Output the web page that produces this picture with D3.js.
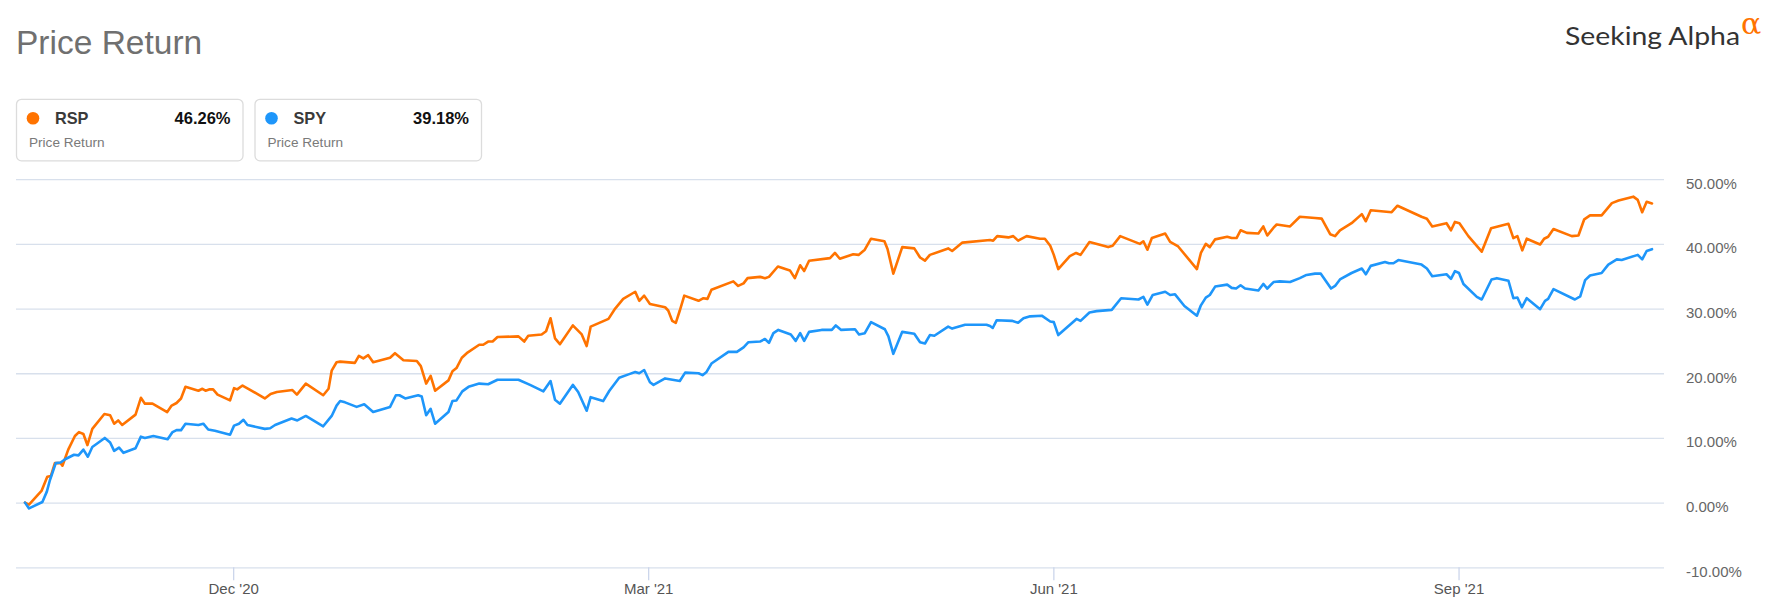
<!DOCTYPE html>
<html>
<head>
<meta charset="utf-8">
<script src="https://cdn.jsdelivr.net/npm/d3@7/dist/d3.min.js"></script>
<style>
  html, body { margin: 0; padding: 0; background: #ffffff; }
  svg { display: block; font-family: "Liberation Sans", Arial, sans-serif; }
</style>
</head>
<body>
<svg id="chart" width="1789" height="608"></svg>
<script>
// ---- data (x = days since start of the 1-year window, y = price return %) ----
const rspDays = [0.0,0.9,3.7,5.0,5.8,6.7,8.0,8.4,9.7,11.2,12.1,13.1,14.0,15.1,17.8,19.1,20.0,20.9,21.8,24.8,26.0,26.9,28.6,31.9,32.9,34.0,35.0,36.0,38.9,39.8,40.5,41.3,42.2,43.2,46.0,46.9,47.6,48.8,50.1,53.8,55.1,56.5,60.0,61.0,63.0,66.9,68.1,68.8,69.9,70.7,74.0,74.9,75.9,77.0,78.1,81.9,83.0,84.9,87.9,88.8,90.0,91.0,92.0,95.0,95.9,96.8,98.0,99.1,101.9,102.8,103.9,104.9,106.0,110.7,112.0,112.9,115.9,116.9,117.9,118.9,120.0,122.9,124.9,126.0,126.9,130.9,132.4,134.2,136.9,137.8,138.9,140.2,143.6,144.3,145.2,146.0,146.9,147.9,151.1,152.2,153.1,154.0,158.9,160.0,161.2,162.1,164.9,166.0,166.9,168.9,171.6,172.7,173.9,174.8,175.9,180.6,181.7,182.8,185.8,187.0,188.4,189.8,192.8,193.5,194.8,196.8,199.5,200.8,201.9,203.0,207.1,208.0,210.3,216.5,217.2,218.1,220.6,221.7,222.8,224.7,227.7,228.8,230.0,230.8,231.8,234.4,235.8,236.8,238.8,243.0,244.0,245.7,250.1,250.9,251.8,252.8,255.8,256.9,258.7,262.9,263.8,264.9,265.8,267.0,269.7,270.7,271.8,272.7,274.1,276.7,277.8,278.7,280.1,280.8,283.8,286.0,289.4,290.9,292.8,293.9,295.0,297.6,299.9,300.8,301.9,306.6,307.9,313.3,314.5,315.7,318.9,319.9,320.8,321.8,323.8,326.8,328.9,332.8,333.9,334.8,335.9,336.9,339.9,340.8,341.7,342.9,347.0,348.5,349.8,351.1,353.7,356.0,357.5,360.8,361.8,362.8,363.8,365.0];
const rspValues = [0,-0.3,1.8,4.0,4.1,6.1,6.1,5.7,8.2,10.3,10.9,10.6,8.9,11.4,13.7,13.5,12.2,12.7,12.0,13.6,16.2,15.3,15.3,14.0,15.0,15.4,16.1,17.9,17.3,17.6,17.3,17.5,17.5,16.7,15.8,17.7,17.5,18.1,17.6,16.1,16.8,17.1,17.4,16.7,18.4,16.6,17.6,20.4,21.7,21.8,21.6,22.7,22.3,22.8,21.7,22.4,23.1,22.0,21.9,21.1,18.4,19.6,17.3,18.9,20.3,20.8,22.4,23.1,24.4,24.4,24.9,24.9,25.6,25.7,24.9,25.8,26.0,26.5,28.5,25.4,24.5,27.4,26.0,24.2,27.2,28.4,30.0,31.5,32.6,31.2,32.0,30.7,30.2,29.7,28.1,27.8,29.7,32.0,31.2,31.6,31.5,32.9,34.2,33.5,33.9,34.7,34.9,34.7,34.9,36.5,35.9,34.7,36.7,35.8,37.4,37.8,38.6,37.7,38.4,38.3,39.1,40.8,40.4,39.2,35.4,39.5,39.3,37.9,37.4,38.3,39.3,38.9,40.2,40.6,40.5,41.2,41.0,41.2,40.5,41.2,40.8,40.8,39.7,38.3,36.1,38.1,38.6,38.3,40.3,39.5,39.7,41.2,40.0,40.4,39.1,40.9,41.6,40.3,39.6,36.1,38.6,40.0,39.5,40.7,41.1,40.9,40.9,42.1,41.7,41.6,42.7,41.3,42.5,43.0,42.7,44.2,44.0,43.9,41.5,41.2,42.1,43.2,44.6,43.5,45.2,44.9,45.9,44.2,43.9,42.7,43.2,42.1,43.4,43.2,41.2,38.8,42.4,43.1,40.9,41.2,39.0,40.8,39.9,40.8,41.1,42.3,41.2,41.3,43.8,44.4,44.4,46.3,46.7,47.3,46.8,44.9,46.5,46.26];

const spyDays = [0.0,0.9,3.9,4.9,5.6,6.9,8.0,9.0,11.0,12.0,13.1,14.1,15.1,17.9,19.1,20.0,21.1,22.1,24.8,26.0,26.9,28.8,32.0,33.1,34.0,35.0,36.0,38.9,40.0,41.1,42.6,46.0,46.9,48.0,49.0,49.9,53.8,55.0,56.1,59.8,61.1,63.0,66.9,68.8,69.9,70.7,71.8,74.4,76.1,78.1,81.9,83.2,84.0,85.3,88.2,89.0,90.0,91.0,92.0,95.0,95.9,96.8,98.1,99.5,101.9,103.9,106.0,110.7,113.3,116.3,117.9,118.9,120.0,122.9,124.1,126.0,126.9,129.7,131.1,133.3,135.7,136.9,137.8,138.9,140.2,141.0,143.6,146.9,148.1,151.1,152.0,152.9,154.0,157.8,159.7,161.2,162.3,164.9,166.0,166.9,167.9,169.0,171.8,172.9,173.9,174.8,175.9,178.7,181.0,181.9,183.1,186.2,187.1,188.4,189.8,192.9,193.7,194.8,196.8,199.5,200.8,201.9,203.0,204.0,207.1,208.0,210.9,215.7,216.5,217.1,218.0,221.4,222.8,224.0,225.5,228.1,230.0,230.8,231.8,235.9,236.8,238.8,240.4,243.8,245.9,249.8,250.9,251.8,253.0,255.8,256.9,258.0,260.1,262.9,263.8,264.9,265.8,267.0,269.7,270.7,271.7,272.7,273.7,276.7,277.8,278.7,280.1,281.5,283.8,286.0,287.5,289.4,290.7,293.0,293.9,295.0,297.6,299.9,300.8,301.9,305.1,306.0,307.0,308.1,313.3,314.5,315.7,318.9,319.9,320.8,321.7,322.7,325.7,326.8,329.0,330.2,332.8,333.9,334.8,335.8,336.9,339.9,341.0,341.7,342.9,347.7,348.9,350.0,351.1,353.7,355.2,357.1,358.2,361.8,362.8,363.8,365.0];
const spyValues = [0,-0.9,0.1,1.7,3.5,6.1,6.2,6.7,7.4,7.3,8.2,7.1,8.6,10.0,9.3,8.0,8.5,7.7,8.4,10.2,10.0,10.3,9.8,10.9,11.2,11.2,12.2,12.0,12.2,11.3,11.1,10.5,11.9,12.2,12.8,12.0,11.4,11.5,12.0,13.0,12.7,13.4,11.8,13.4,15.0,15.7,15.5,14.8,15.2,14.0,14.8,16.6,16.6,16.1,16.6,16.4,13.5,14.5,12.2,14.0,15.7,15.8,17.2,17.9,18.4,18.3,19.0,19.0,18.2,17.2,18.8,15.9,15.3,18.2,17.1,14.2,16.3,15.7,17.3,19.3,19.9,20.2,20.0,20.5,18.6,18.2,19.2,18.8,20.1,20.0,19.7,20.2,21.5,23.3,23.3,24.0,24.8,24.9,25.3,24.7,26.2,26.7,26.0,25.0,26.2,25.0,26.4,26.7,26.7,27.4,26.7,26.8,26.0,26.2,27.9,26.8,25.7,23.0,26.4,26.1,24.8,24.6,25.9,25.8,27.2,26.9,27.5,27.5,27.3,27.0,28.2,28.1,27.8,28.5,28.8,28.9,28.0,27.9,25.9,28.4,28.1,29.4,29.6,29.8,31.6,31.4,31.8,30.6,32.1,32.6,32.1,32.2,30.4,28.9,30.5,31.7,32.1,33.4,33.7,33.2,33.1,33.6,33.1,32.8,33.8,33.1,34.1,34.2,34.1,34.7,35.2,35.4,35.4,33.1,33.5,34.5,35.5,36.2,35.3,36.6,37.2,37.0,37.0,37.5,36.8,36.2,35.0,35.3,34.6,35.8,35.5,33.8,31.8,31.4,34.5,34.7,34.3,31.6,31.7,30.2,31.6,29.9,31.2,31.5,33.0,31.4,31.9,34.4,35.1,35.5,36.8,37.6,37.5,38.3,37.6,38.9,39.18];

const seriesNames = ["RSP", "SPY"];
const seriesTotals = ["46.26%", "39.18%"];
const seriesSubtitle = "Price Return";
const seriesColors = ["#ff7300", "#1e96fa"];

const yTicks = [-10, 0, 10, 20, 30, 40, 50];
const xTickDays = [46.7, 139.8, 230.7, 321.6];
const xTickLabels = ["Dec '20", "Mar '21", "Jun '21", "Sep '21"];

const title = "Price Return";

// ---- layout ----
const svg = d3.select("#chart");
const plotLeft = 16, plotRight = 1664;
const x = d3.scaleLinear().domain([0, 365]).range([25, 1652]);
const y = d3.scaleLinear().domain([-10, 50]).range([567.3, 179.2]);

// title
svg.append("text")
  .attr("x", 16).attr("y", 53.5)
  .attr("fill", "#707070")
  .attr("font-size", 33.5)
  .text(title);

// logo
const logo = svg.append("g");
logo.append("text")
  .attr("x", 1565).attr("y", 45)
  .attr("fill", "#333")
  .attr("font-family", "Lato, 'Open Sans', sans-serif")
  .attr("font-size", 25)
  .attr("textLength", 175)
  .attr("lengthAdjust", "spacingAndGlyphs")
  .text("Seeking Alpha");
logo.append("text")
  .attr("x", 1741).attr("y", 33.5)
  .attr("fill", "#ff7300")
  .attr("font-family", "'DejaVu Serif', serif")
  .attr("font-size", 30)
  .text("α");

// legend boxes
const legend = svg.append("g");
const boxW = 226.5, boxH = 61.5, boxGap = 12;
seriesNames.forEach((name, i) => {
  const g = legend.append("g").attr("transform", `translate(${16.5 + i * (boxW + boxGap)},99.3)`);
  g.append("rect")
    .attr("width", boxW).attr("height", boxH)
    .attr("rx", 5).attr("ry", 5)
    .attr("fill", "#fff")
    .attr("stroke", "#dcdcdc").attr("stroke-width", 1.3);
  g.append("circle").attr("cx", 16.5).attr("cy", 19).attr("r", 6.3).attr("fill", seriesColors[i]);
  g.append("text").attr("x", 38.5).attr("y", 25)
    .attr("font-size", 16.3).attr("font-weight", "bold").attr("fill", "#3a3a3a")
    .text(name);
  g.append("text").attr("x", boxW - 12.5).attr("y", 25)
    .attr("text-anchor", "end")
    .attr("font-size", 16.5).attr("font-weight", "bold").attr("fill", "#111")
    .text(seriesTotals[i]);
  g.append("text").attr("x", 12.5).attr("y", 47.5)
    .attr("font-size", 13.6).attr("fill", "#7a7a7a")
    .text(seriesSubtitle);
});

// y axis with gridlines (labels on the right)
const yAxis = d3.axisRight(y)
  .tickValues(yTicks)
  .tickSize(-(plotRight - plotLeft))
  .tickPadding(22)
  .tickFormat(d => d.toFixed(2) + "%");
const gy = svg.append("g").attr("transform", `translate(${plotRight},0)`).call(yAxis);
gy.select(".domain").remove();
gy.selectAll(".tick line").attr("stroke", "#d8e0ec").attr("stroke-width", 1.3);
gy.selectAll(".tick text")
  .attr("font-size", 15).attr("fill", "#666")
  .attr("font-family", "'Liberation Sans', Arial, sans-serif")
  .attr("dy", "0.6em");

// x axis
const xAxis = d3.axisBottom(x)
  .tickValues(xTickDays)
  .tickFormat((d, i) => xTickLabels[i])
  .tickSize(13)
  .tickPadding(3);
const gx = svg.append("g").attr("transform", `translate(0,${y(-10)})`).call(xAxis);
gx.select(".domain").remove();
gx.selectAll(".tick line").attr("stroke", "#ccd6eb").attr("stroke-width", 1.3);
gx.selectAll(".tick text")
  .attr("font-size", 15).attr("fill", "#555")
  .attr("font-family", "'Liberation Sans', Arial, sans-serif");

// lines
const line = d3.line().x(d => x(d[0])).y(d => y(d[1]));
const series = [
  d3.zip(rspDays, rspValues),
  d3.zip(spyDays, spyValues)
];
series.forEach((pts, i) => {
  svg.append("path")
    .datum(pts)
    .attr("fill", "none")
    .attr("stroke", seriesColors[i])
    .attr("stroke-width", 2.6)
    .attr("stroke-linejoin", "round")
    .attr("stroke-linecap", "round")
    .attr("d", line);
});
</script>
</body>
</html>
